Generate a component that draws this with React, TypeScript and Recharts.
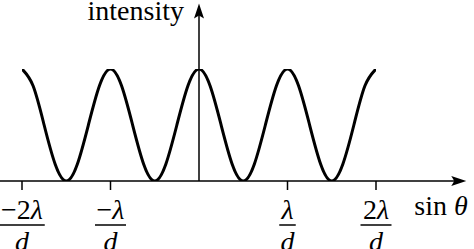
import React from 'react';
import { LineChart, Line, XAxis, YAxis, ReferenceLine } from 'recharts';

// sin θ in units of λ/d
const sinTheta = [
  -2, -1.875, -1.75, -1.625, -1.5, -1.375, -1.25, -1.125,
  -1, -0.875, -0.75, -0.625, -0.5, -0.375, -0.25, -0.125,
  0, 0.125, 0.25, 0.375, 0.5, 0.625, 0.75, 0.875,
  1, 1.125, 1.25, 1.375, 1.5, 1.625, 1.75, 1.875, 2,
];
const intensity = [
  1, 0.85, 0.5, 0.15, 0, 0.15, 0.5, 0.85,
  1, 0.85, 0.5, 0.15, 0, 0.15, 0.5, 0.85,
  1, 0.85, 0.5, 0.15, 0, 0.15, 0.5, 0.85,
  1, 0.85, 0.5, 0.15, 0, 0.15, 0.5, 0.85, 1,
];
const tickValues = [-2, -1, 1, 2];
const tickCoefficients = ['−2', '−', '', '2'];
const tickSymbol = 'λ';
const tickDenominator = 'd';
const yAxisTitle = 'intensity';
const xAxisTitle = 'sin ';
const xAxisSymbol = 'θ';

const data = sinTheta.map((s, i) => ({ s, I: intensity[i] }));

const FONT = '"Liberation Serif", "DejaVu Serif", serif';

const FracTick = (props: any) => {
  const { x, y, payload } = props;
  const idx = tickValues.indexOf(payload.value);
  const coef = tickCoefficients[idx] ?? '';
  const n = coef.length + 1;
  const w = 14.5 * n + 2;
  return (
    <g>
      <text x={x} y={y + 27} textAnchor="middle" fontFamily={FONT} fontSize={28} fill="#000">
        <tspan>{coef}</tspan>
        <tspan fontStyle="italic">{tickSymbol}</tspan>
      </text>
      <line x1={x - w / 2} x2={x + w / 2} y1={y + 33} y2={y + 33} stroke="#000" strokeWidth={1.5} />
      <text x={x} y={y + 59} textAnchor="middle" fontFamily={FONT} fontSize={28} fontStyle="italic" fill="#000">
        {tickDenominator}
      </text>
    </g>
  );
};

const HAxisShape = (props: any) => {
  const { x1, y1, x2, y2 } = props;
  return (
    <g>
      <line x1={x1} y1={y1} x2={x2 - 6} y2={y2} stroke="#000" strokeWidth={1.5} />
      <path
        d={`M${x2},${y2} L${x2 - 15},${y2 - 5} L${x2 - 12},${y2} L${x2 - 15},${y2 + 5} Z`}
        fill="#000"
      />
      <text x={x2 - 52} y={y2 + 34} fontFamily={FONT} fontSize={28} fill="#000">
        <tspan>{xAxisTitle}</tspan>
        <tspan fontStyle="italic">{xAxisSymbol}</tspan>
      </text>
    </g>
  );
};

const VAxisShape = (props: any) => {
  const { x1, y1, x2, y2 } = props;
  const top = Math.min(y1, y2);
  const bottom = Math.max(y1, y2);
  const x = x1;
  return (
    <g>
      <line x1={x} y1={bottom} x2={x} y2={top + 6} stroke="#000" strokeWidth={1.5} />
      <path
        d={`M${x},${top} L${x - 5},${top + 15} L${x},${top + 12} L${x + 5},${top + 15} Z`}
        fill="#000"
      />
      <text x={x - 15} y={top + 17} textAnchor="end" fontFamily={FONT} fontSize={28} fill="#000">
        {yAxisTitle}
      </text>
    </g>
  );
};

export default function App() {
  return (
    <div style={{ position: 'absolute', left: 0, top: 0, background: '#fff' }}>
      <LineChart
        width={474}
        height={249}
        data={data}
        margin={{ top: 69, right: 98, left: 22, bottom: 8 }}
      >
        <XAxis
          dataKey="s"
          type="number"
          domain={[-2, 2]}
          ticks={tickValues}
          interval={0}
          axisLine={false}
          tickSize={9}
          tickLine={{ stroke: '#000', strokeWidth: 1.5 }}
          tick={<FracTick />}
          height={60}
          allowDataOverflow
        />
        <YAxis type="number" domain={[0, 1]} hide allowDataOverflow />
        <ReferenceLine
          segment={[{ x: -2.26, y: 0 }, { x: 3.02, y: 0 }]}
          ifOverflow="visible"
          shape={<HAxisShape />}
        />
        <ReferenceLine
          segment={[{ x: 0, y: 0 }, { x: 0, y: 1.585 }]}
          ifOverflow="visible"
          shape={<VAxisShape />}
        />
        <Line
          dataKey="I"
          type="natural"
          stroke="#000"
          strokeWidth={3}
          dot={false}
          activeDot={false}
          isAnimationActive={false}
        />
      </LineChart>
    </div>
  );
}
